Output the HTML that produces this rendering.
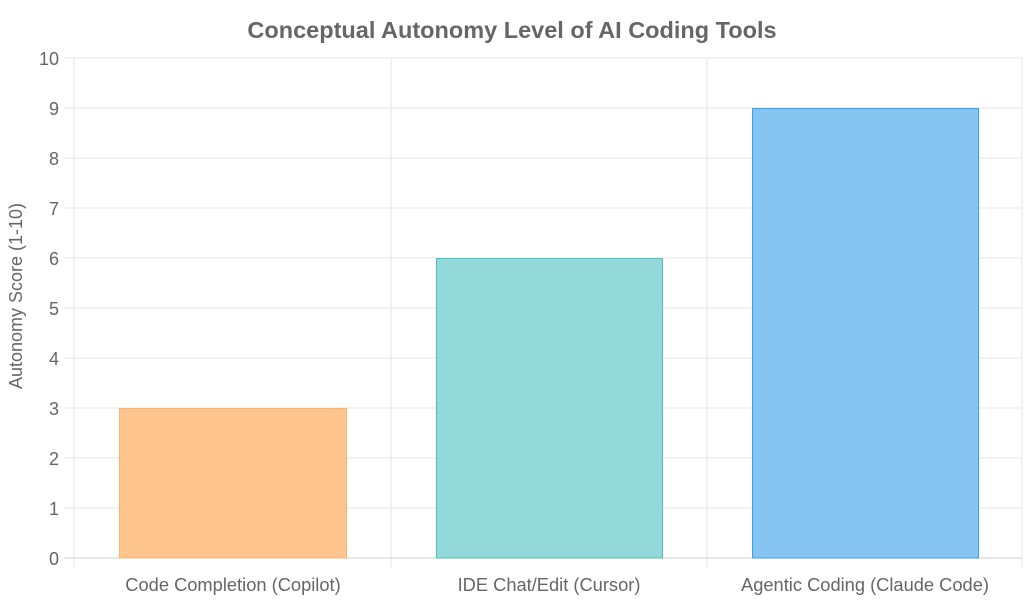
<!DOCTYPE html>
<html><head><style>body{margin:0;background:#fff}svg{display:block}</style></head><body>
<svg width="1024" height="601" xmlns="http://www.w3.org/2000/svg" font-family="Liberation Sans, sans-serif">
<text x="512" y="38" text-anchor="middle" font-size="23.5" font-weight="bold" fill="#666">Conceptual Autonomy Level of AI Coding Tools</text>
<g stroke="#e4e4e4" stroke-width="1">
<line x1="64" y1="58" x2="1022" y2="58"/><line x1="64" y1="108" x2="1022" y2="108"/><line x1="64" y1="158" x2="1022" y2="158"/><line x1="64" y1="208" x2="1022" y2="208"/><line x1="64" y1="258" x2="1022" y2="258"/><line x1="64" y1="308" x2="1022" y2="308"/><line x1="64" y1="358" x2="1022" y2="358"/><line x1="64" y1="408" x2="1022" y2="408"/><line x1="64" y1="458" x2="1022" y2="458"/><line x1="64" y1="508" x2="1022" y2="508"/>
<line x1="74" y1="58" x2="74" y2="568"/><line x1="391" y1="58" x2="391" y2="568"/><line x1="707" y1="58" x2="707" y2="568"/><line x1="1022" y1="58" x2="1022" y2="568"/>
</g>
<line x1="64" y1="558" x2="1022" y2="558" stroke="#d0d0d0"/>
<rect x="119.5" y="408.5" width="227" height="149.5" fill="#fec48d" stroke="#fdb36b"/>
<rect x="436.5" y="258.5" width="226" height="299.5" fill="#93d9d9" stroke="#4bc0c0"/>
<rect x="752.5" y="108.5" width="226" height="449.5" fill="#86c4f2" stroke="#36a2eb"/>
<g font-size="18" fill="#666" text-anchor="end">
<text x="59" y="65">10</text><text x="59" y="115">9</text><text x="59" y="165">8</text><text x="59" y="215">7</text><text x="59" y="265">6</text><text x="59" y="315">5</text><text x="59" y="365">4</text><text x="59" y="415">3</text><text x="59" y="465">2</text><text x="59" y="515">1</text><text x="59" y="565">0</text>
</g>
<g font-size="18.3" fill="#666" text-anchor="middle">
<text x="233" y="591">Code Completion (Copilot)</text>
<text x="549" y="591">IDE Chat/Edit (Cursor)</text>
<text x="865" y="591">Agentic Coding (Claude Code)</text>
</g>
<text transform="translate(22,296) rotate(-90)" font-size="18" fill="#666" text-anchor="middle">Autonomy Score (1-10)</text>
</svg>
</body></html>
